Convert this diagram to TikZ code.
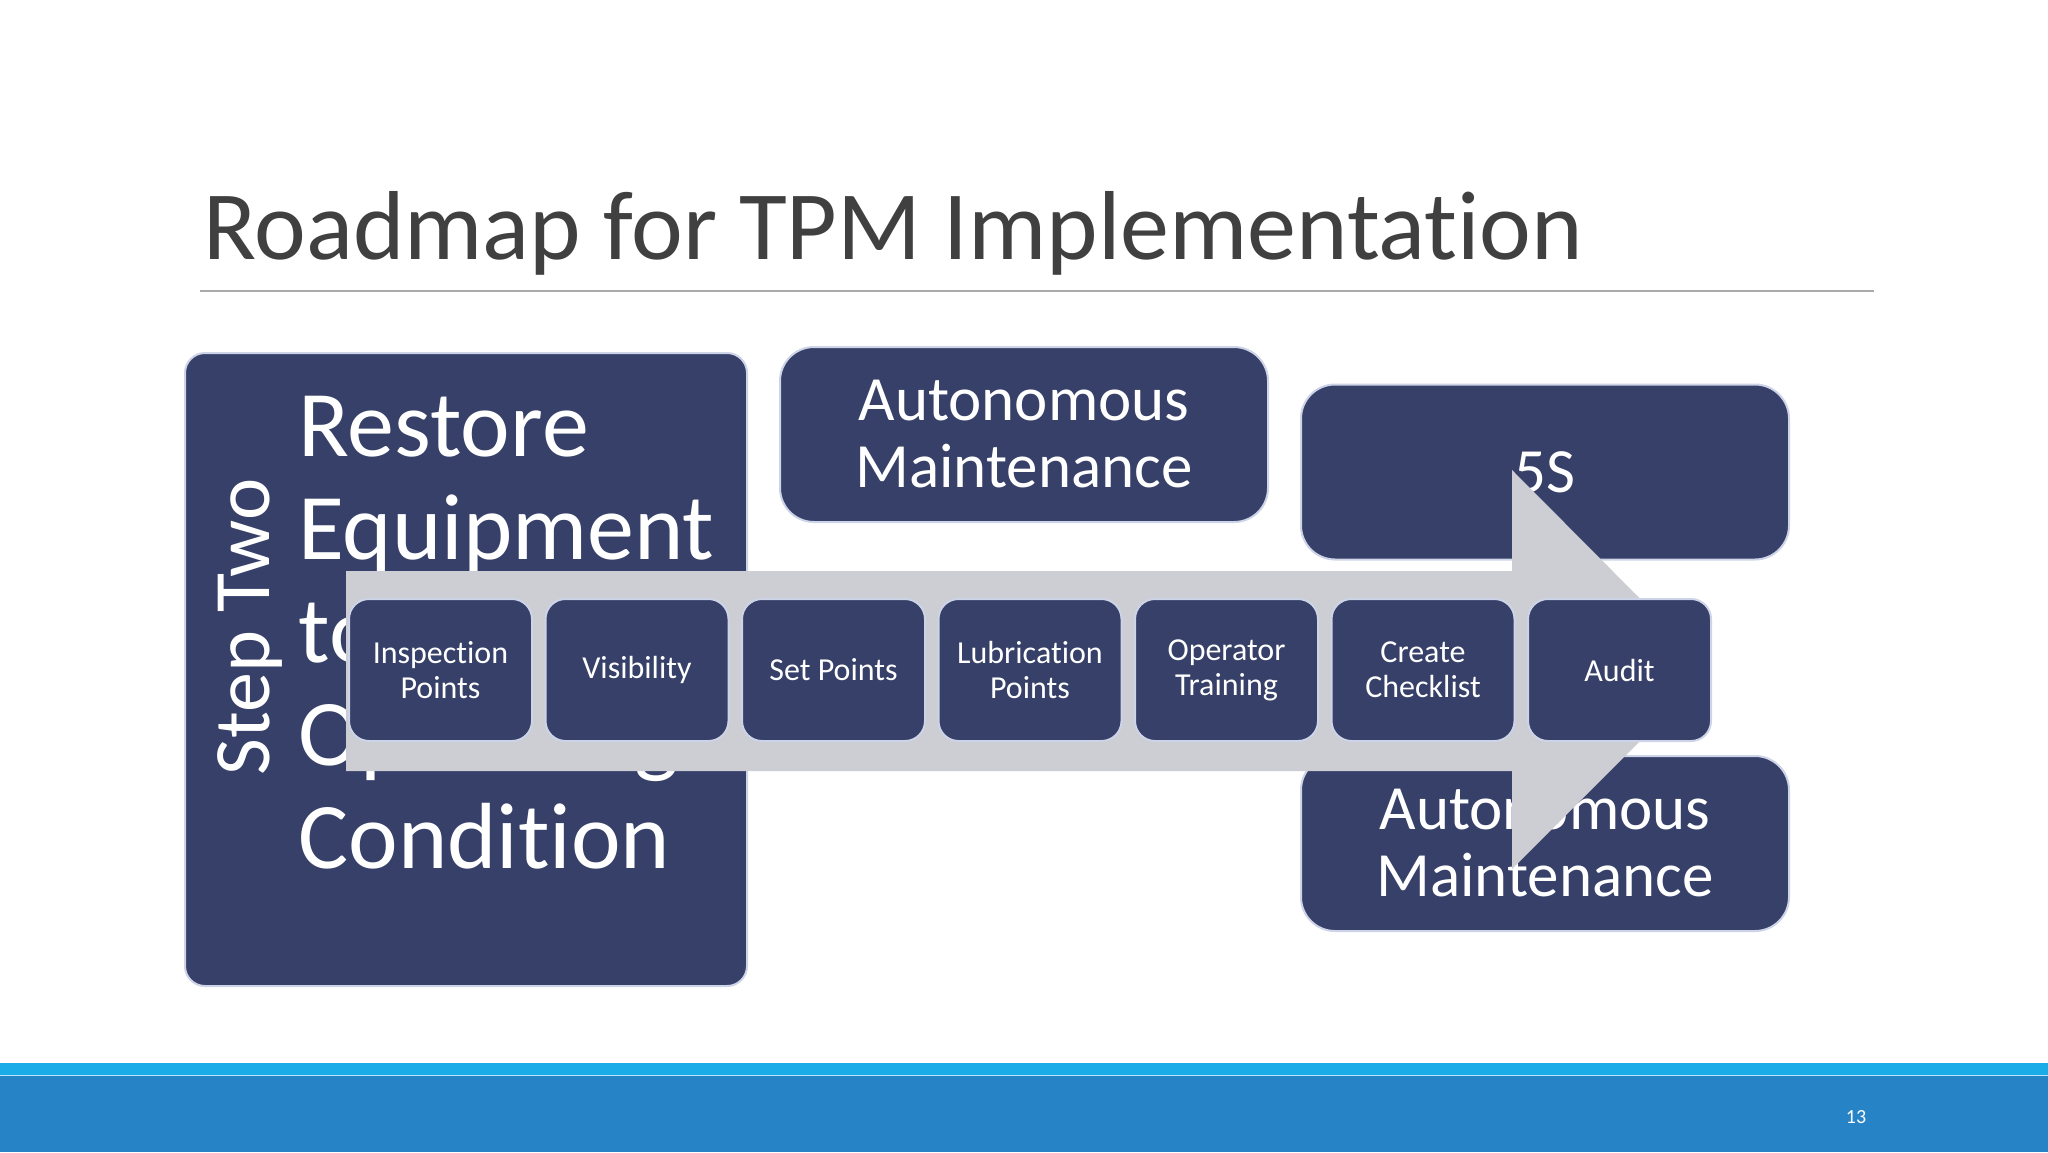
\documentclass[tikz,border=0pt]{standalone}
\usepackage{fontspec}
\setmainfont{Carlito}[Ligatures=NoCommon]
\definecolor{navy}{RGB}{54,64,104}
\definecolor{edgec}{RGB}{205,212,232}
\definecolor{arrowgray}{RGB}{204,206,211}
\definecolor{titlegray}{RGB}{64,64,64}
\definecolor{rulegray}{RGB}{170,170,170}
\definecolor{footlight}{RGB}{26,172,232}
\definecolor{footdark}{RGB}{38,131,198}
\begin{document}
\begin{tikzpicture}[x=0.5pt,y=-0.5pt,
  bigbox/.style={draw=edgec, line width=1pt, fill=navy, rounded corners=10pt, inner sep=0pt},
  topbox/.style={draw=edgec, line width=1pt, fill=navy, rounded corners=17pt, inner sep=0pt,
    minimum width=244pt, minimum height=87.5pt},
  stepbox/.style={draw=edgec, line width=1pt, fill=navy, rounded corners=10pt, inner sep=0pt,
    minimum width=91.5pt, minimum height=71pt, text=white, align=center,
    font=\fontsize{16}{17.5}\selectfont},
  toptext/.style={text=white, align=center, inner sep=0pt, font=\fontsize{31.5}{33.5}\selectfont},
]
\fill[white] (0,0) rectangle (2048,1152);
\useasboundingbox (0,0) rectangle (2048,1152);

% title
\node[anchor=base west, inner sep=0pt, text=titlegray, font=\fontsize{49}{55}\selectfont]
  (title) at (203,259) {Roadmap for TPM Implementation};
\draw[rulegray, line width=0.8pt] (200,291) -- (1874,291);

% left big box
\node[bigbox, minimum width=281pt, minimum height=316.5pt] (stepbox2) at (466,669.5) {};
\node[rotate=90, text=white, inner sep=0pt, font=\fontsize{40}{44}\selectfont]
  (steptwo) at (250,627) {Step Two};
\node[anchor=base west, text=white, inner sep=0pt, align=left,
  font=\fontsize{47}{51.5}\selectfont] (restore) at (298,868)
  {Restore\\Equipment\\to\\Operating\\Condition};

% upper / right boxes
\node[topbox] (am1) at (1024,434.5) {};
\node[toptext] (am1t) at (am1.center) {Autonomous\\Maintenance};
\node[topbox] (fives) at (1545,472) {};
\node[toptext] (fivest) at (fives.center) {5S};
\node[topbox] (am2) at (1545,843.5) {};
\node[toptext] (am2t) at (am2.center) {Autonomous\\Maintenance};

% big arrow
\fill[arrowgray] (346,571) -- (1512,571) -- (1512,470) -- (1711,670)
  -- (1512,869) -- (1512,771) -- (346,771) -- cycle;

% steps
\foreach \i/\t in {1/{Inspection\\Points},2/{Visibility},3/{Set Points},
  4/{Lubrication\\Points},5/{Operator\\Training},6/{Create\\Checklist},7/{Audit}}{
  \node[stepbox] (s\i) at ({440.5+(\i-1)*196.5},670) {\t};
}

% footer
\fill[footlight] (0,1063) rectangle (2048,1075);
\fill[footdark] (0,1075) rectangle (2048,1152);
\draw[white!70!footlight, line width=0.5pt] (0,1075) -- (2048,1075);
\node[text=white, inner sep=0pt, font=\fontsize{10}{12}\selectfont] (pagenum) at (1856,1117) {13};
\end{tikzpicture}
\end{document}
